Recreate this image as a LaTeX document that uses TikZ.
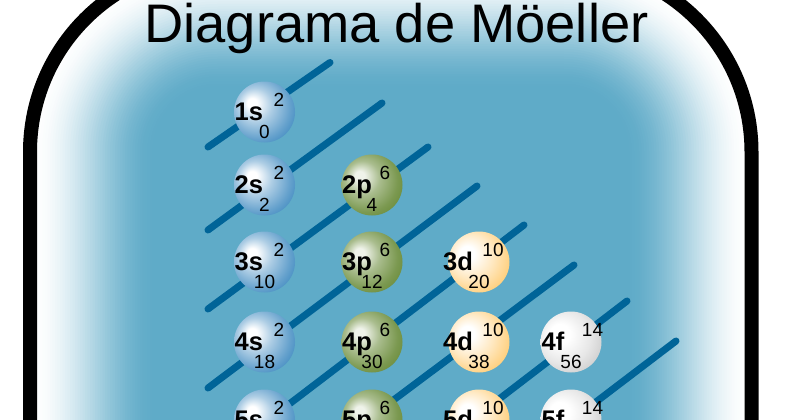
\documentclass[tikz,border=0pt]{standalone}
\usepackage{fontspec}
\setmainfont{Liberation Sans}
\usetikzlibrary{calc}

\definecolor{bgblue}{RGB}{95,171,200}
\definecolor{rayblue}{RGB}{0,100,152}
\definecolor{sblue}{RGB}{50,130,188}
\definecolor{pgreen}{RGB}{100,135,50}
\definecolor{dorange}{RGB}{255,200,105}
\definecolor{fgrey}{RGB}{195,195,195}

\pgfdeclareradialshading{sball}{\pgfpoint{-11bp}{8bp}}{color(0bp)=(white); color(4bp)=(white); color(14bp)=(sblue!40!white); color(26bp)=(sblue!75!white); color(36bp)=(sblue); color(50bp)=(sblue!80!black)}
\pgfdeclareradialshading{pball}{\pgfpoint{-11bp}{8bp}}{color(0bp)=(white!90!pgreen); color(4bp)=(white!90!pgreen); color(14bp)=(pgreen!55!white); color(26bp)=(pgreen!85!white); color(36bp)=(pgreen); color(50bp)=(pgreen!65!black)}
\pgfdeclareradialshading{dball}{\pgfpoint{-11bp}{8bp}}{color(0bp)=(white); color(6bp)=(white); color(18bp)=(dorange!40!white); color(30bp)=(dorange!85!white); color(38bp)=(dorange); color(50bp)=(dorange!95!black)}
\pgfdeclareradialshading{fball}{\pgfpoint{-11bp}{8bp}}{color(0bp)=(white); color(8bp)=(white); color(22bp)=(fgrey!40!white); color(34bp)=(fgrey!90!white); color(50bp)=(fgrey!85!black)}

\def\orbital[#1](#2)(#3:#4:#5:#6)(#7:#8){
	\node[ball, shading=#1] (#3) at (#2) {};
	\node[orbtxt, anchor=base west] (#3-name) at ($(#3.center)+(#7,8)$) {#4};
	\node[numtxt, anchor=base] (#3-up) at ($(#3.center)+(#8,-5.3)$) {#5};
	\node[numtxt, anchor=base] (#3-down) at ($(#3.center)+(0,26.3)$) {#6};
}

\begin{document}
\begin{tikzpicture}[x=1pt, y=-1pt,
		ball/.style={circle, minimum size=61pt, inner sep=0pt},
		orbtxt/.style={font=\bfseries\fontsize{25.5}{25.5}\selectfont, inner sep=0pt},
		numtxt/.style={font=\fontsize{19}{19}\selectfont, inner sep=0pt},
		ray/.style={line width=7pt, line cap=round, color=rayblue}]
			%%%%% START %%%%%
			
			\useasboundingbox (0,0) rectangle (800,420);
			\clip (0,0) rectangle (800,420);
			\fill[white] (0,0) rectangle (800,420);
			
			% glow of the frame
			\foreach \k in {0,...,50}{
				\pgfmathsetmacro\d{2.5*\k}
				\pgfmathsetmacro\rr{188-2.5*\k}
				\pgfmathsetmacro\pc{100*(3*(\k/50)^2-2*(\k/50)^3)}
				\fill[bgblue!\pc!white, rounded corners=\rr pt] (30+\d,-36+\d) rectangle (751.5-\d,700);
			}
			\draw[line width=14pt, rounded corners=188pt] (30,-36) rectangle (751.5,700);
			
			\node[font=\fontsize{54.3}{54.3}\selectfont, anchor=base, inner sep=0pt] (title) at (396.5,42.7) {Diagrama de Möeller};
			
			% diagonals
			\draw[ray] (208,147) -- (330,62.5);
			\draw[ray] (208,230) -- (382,103);
			\draw[ray] (208,309) -- (428,147);
			\draw[ray] (208,388) -- (477,186);
			\draw[ray] (208,466) -- (524,225);
			\draw[ray] (300,470) -- (574,265);
			\draw[ray] (400,475) -- (627,301);
			\draw[ray] (500,475) -- (676,341);
			
			% s
			\orbital[sball](264.5,112)(o1s:1s:2:0)(-30:14.5)
			\orbital[sball](264.5,185)(o2s:2s:2:2)(-30:14.5)
			\orbital[sball](264.5,262)(o3s:3s:2:10)(-30:14.5)
			\orbital[sball](264.5,342)(o4s:4s:2:18)(-30:14.5)
			\orbital[sball](264.5,420)(o5s:5s:2:)(-30:14.5)
			
			% p
			\orbital[pball](372,185)(o2p:2p:6:4)(-30:13)
			\orbital[pball](372,262)(o3p:3p:6:12)(-30:13)
			\orbital[pball](372,342)(o4p:4p:6:30)(-30:13)
			\orbital[pball](372,420)(o5p:5p:6:)(-30:13)
			
			% d
			\orbital[dball](479,262)(o3d:3d:10:20)(-36:14)
			\orbital[dball](479,342)(o4d:4d:10:38)(-36:14)
			\orbital[dball](479,420)(o5d:5d:10:)(-36:14)
			
			% f
			\orbital[fball](571,342)(o4f:4f:14:56)(-29.5:21.5)
			\orbital[fball](571,420)(o5f:5f:14:)(-29.5:21.5)
			
			%%%%% END %%%%%
\end{tikzpicture}
\end{document}
